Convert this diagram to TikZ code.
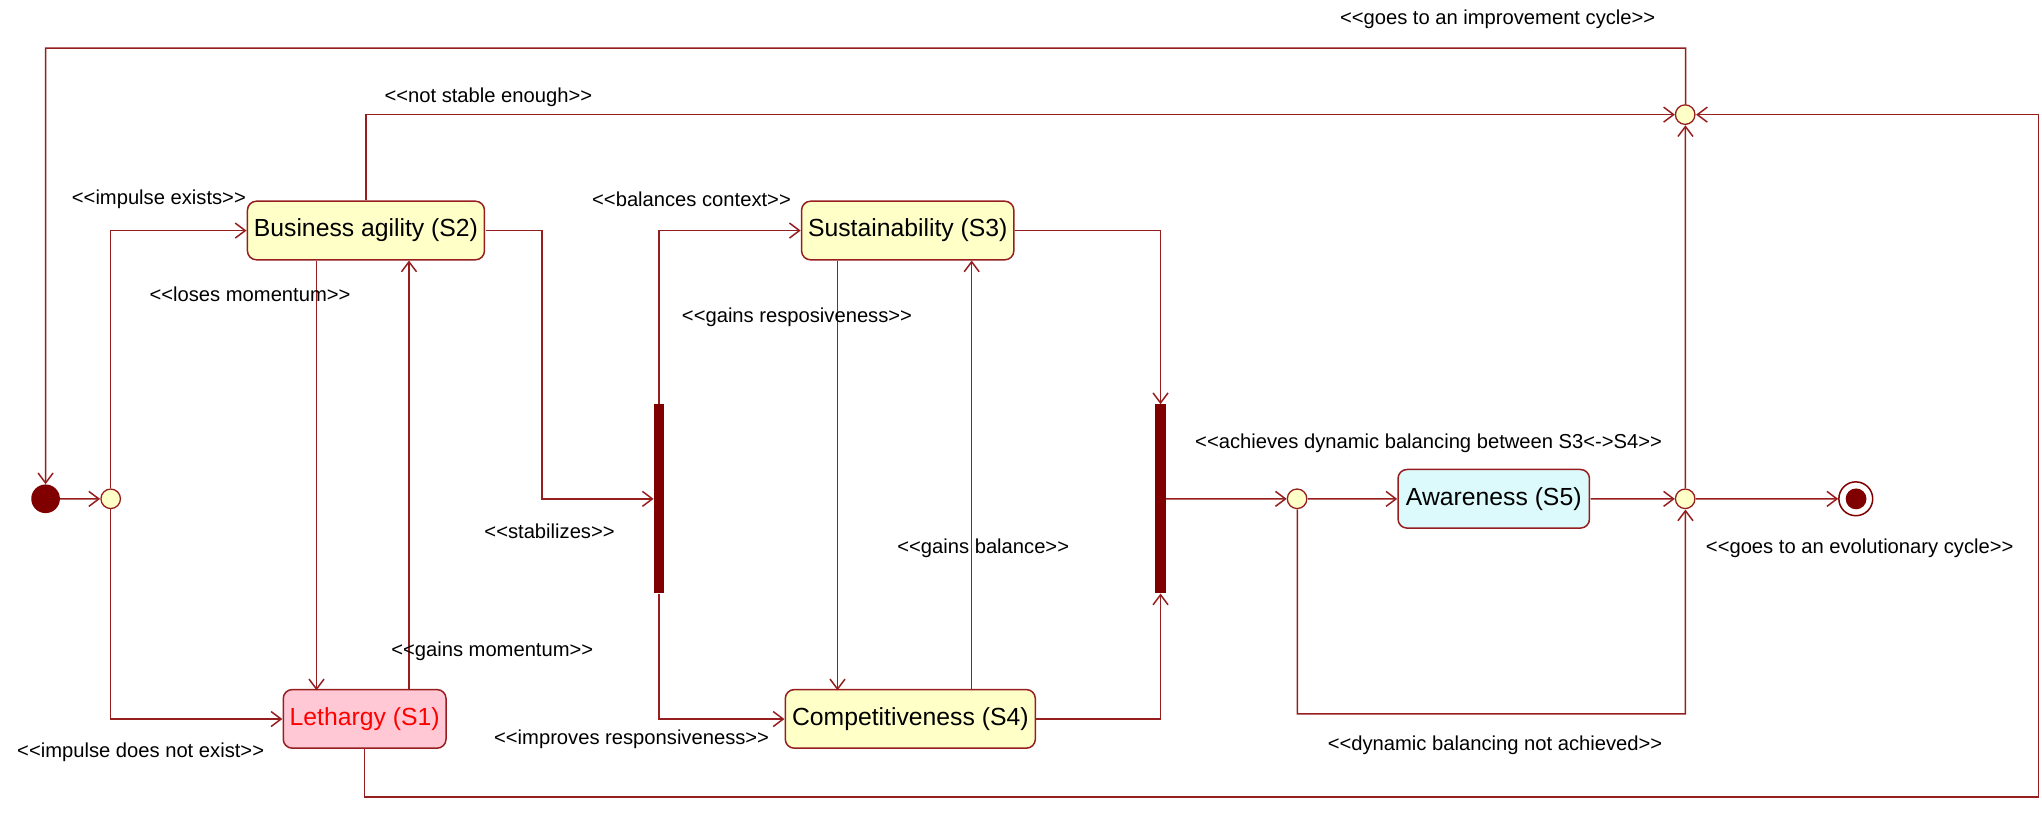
\documentclass[tikz,border=0pt]{standalone}
\usepackage{fontspec}
\setmainfont{Liberation Sans}
\usepackage{tikz}
\usetikzlibrary{arrows.meta, positioning}
\definecolor{edgered}{RGB}{150,30,30}
\definecolor{barred}{RGB}{128,0,0}
\definecolor{stateyellow}{RGB}{255,255,200}
\definecolor{statepink}{RGB}{255,200,212}
\definecolor{statecyan}{RGB}{220,250,252}

\begin{document}
\begin{tikzpicture}[x=1pt,y=-1pt,scale=1.302,every node/.append style={transform shape},
    >={Straight Barb[length=10pt,width=15pt]}]
  \tikzstyle{every state}=[draw=edgered,fill=stateyellow,rounded corners=9pt,
    line width=1.5pt,minimum height=45pt,font=\fontsize{19}{20}\selectfont,inner sep=4pt]
  \tikzstyle{junction}=[circle,draw=edgered,fill=stateyellow,line width=1.3pt,minimum size=15pt,inner sep=0pt]
  \tikzstyle{bar}=[fill=barred,minimum width=8pt,minimum height=145pt,inner sep=0pt]
  \tikzstyle{lbl}=[font=\fontsize{15.5}{16}\selectfont,inner sep=0pt]
  \tikzstyle{wire}=[draw=edgered,line width=1.5pt]

  \useasboundingbox (0,0) rectangle (1568,627);

  \node[circle,fill=barred,minimum size=22pt,inner sep=0pt] (init) at (35,383) {};
  \node[junction] (j1) at (85,383) {};
  \node[every state,minimum width=182pt] (s2) at (281,177) {Business agility (S2)};
  \node[every state,minimum width=125pt,fill=statepink,text=red] (s1) at (280,552) {Lethargy (S1)};
  \node[every state,minimum width=163pt] (s3) at (697,177) {Sustainability (S3)};
  \node[every state,minimum width=192pt] (s4) at (699,552) {Competitiveness (S4)};
  \node[bar] (fork) at (506,383) {};
  \node[bar] (join) at (891,383) {};
  \node[junction] (j2) at (996,383) {};
  \node[every state,minimum width=147pt,fill=statecyan] (s5) at (1147,383) {Awareness (S5)};
  \node[junction] (j3) at (1294,383) {};
  \node[circle,draw=barred,line width=1.5pt,minimum size=26pt,inner sep=0pt] (final) at (1425,383) {};
  \fill[barred] (final) circle (8pt);
  \node[junction] (j4) at (1294,88) {};

  \coordinate (s2b1) at (243,200);  \coordinate (s1t1) at (243,530);
  \coordinate (s2b2) at (314,200);  \coordinate (s1t2) at (314,530);
  \coordinate (s3b1) at (643,200);  \coordinate (s4t1) at (643,530);
  \coordinate (s3b2) at (746,200);  \coordinate (s4t2) at (746,530);
  \coordinate (stab) at (416,383);
  \coordinate (notach) at (1294,548);
  \coordinate (loopbr) at (1565,612);
  \coordinate (looptl) at (35,37);

  \draw[wire,->] (init) -- (j1);
  \draw[wire,->] (j1) |- (s2);
  \draw[wire,->] (j1) |- (s1);
  \draw[wire,->] (s2b1) -- (s1t1);
  \draw[wire,->] (s1t2) -- (s2b2);
  \draw[wire,->] (s2.east) -| (stab) -- (fork.west);
  \draw[wire,->] (fork.north) |- (s3);
  \draw[wire,->] (fork.south) |- (s4);
  \draw[wire,->] (s3b1) -- (s4t1);
  \draw[wire,->] (s4t2) -- (s3b2);
  \draw[wire,->] (s3.east) -| (join.north);
  \draw[wire,->] (s4.east) -| (join.south);
  \draw[wire,->] (join.east) -- (j2);
  \draw[wire,->] (j2) -- (s5);
  \draw[wire,->] (j2) |- (notach) -- (j3);
  \draw[wire,->] (s5) -- (j3);
  \draw[wire,->] (j3) -- (final);
  \draw[wire,->] (j3) -- (j4);
  \draw[wire,->] (s2.north) |- (j4);
  \draw[wire,->] (s1.south) |- (loopbr) |- (j4);
  \draw[wire,->] (j4) |- (looptl) -- (init);

  \node[lbl] (limp)  at (122,153) {<{}<impulse exists>{}>};
  \node[lbl] (lnimp) at (108,578) {<{}<impulse does not exist>{}>};
  \node[lbl] (lloses) at (192,226) {<{}<loses momentum>{}>};
  \node[lbl] (lgains) at (378,500) {<{}<gains momentum>{}>};
  \node[lbl] (lstab) at (422,408) {<{}<stabilizes>{}>};
  \node[lbl] (lbal)  at (531,153) {<{}<balances context>{}>};
  \node[lbl] (limpr) at (485,568) {<{}<improves responsiveness>{}>};
  \node[lbl] (lresp) at (612,244) {<{}<gains resposiveness>{}>};
  \node[lbl] (lgbal) at (755,421) {<{}<gains balance>{}>};
  \node[lbl] (lach)  at (1097,340) {<{}<achieves dynamic balancing between S3<->S4>{}>};
  \node[lbl] (lnot)  at (1148,572) {<{}<dynamic balancing not achieved>{}>};
  \node[lbl] (levo)  at (1428,421) {<{}<goes to an evolutionary cycle>{}>};
  \node[lbl] (lns)   at (375,75)  {<{}<not stable enough>{}>};
  \node[lbl] (limpc) at (1150,15) {<{}<goes to an improvement cycle>{}>};
\end{tikzpicture}
\end{document}
